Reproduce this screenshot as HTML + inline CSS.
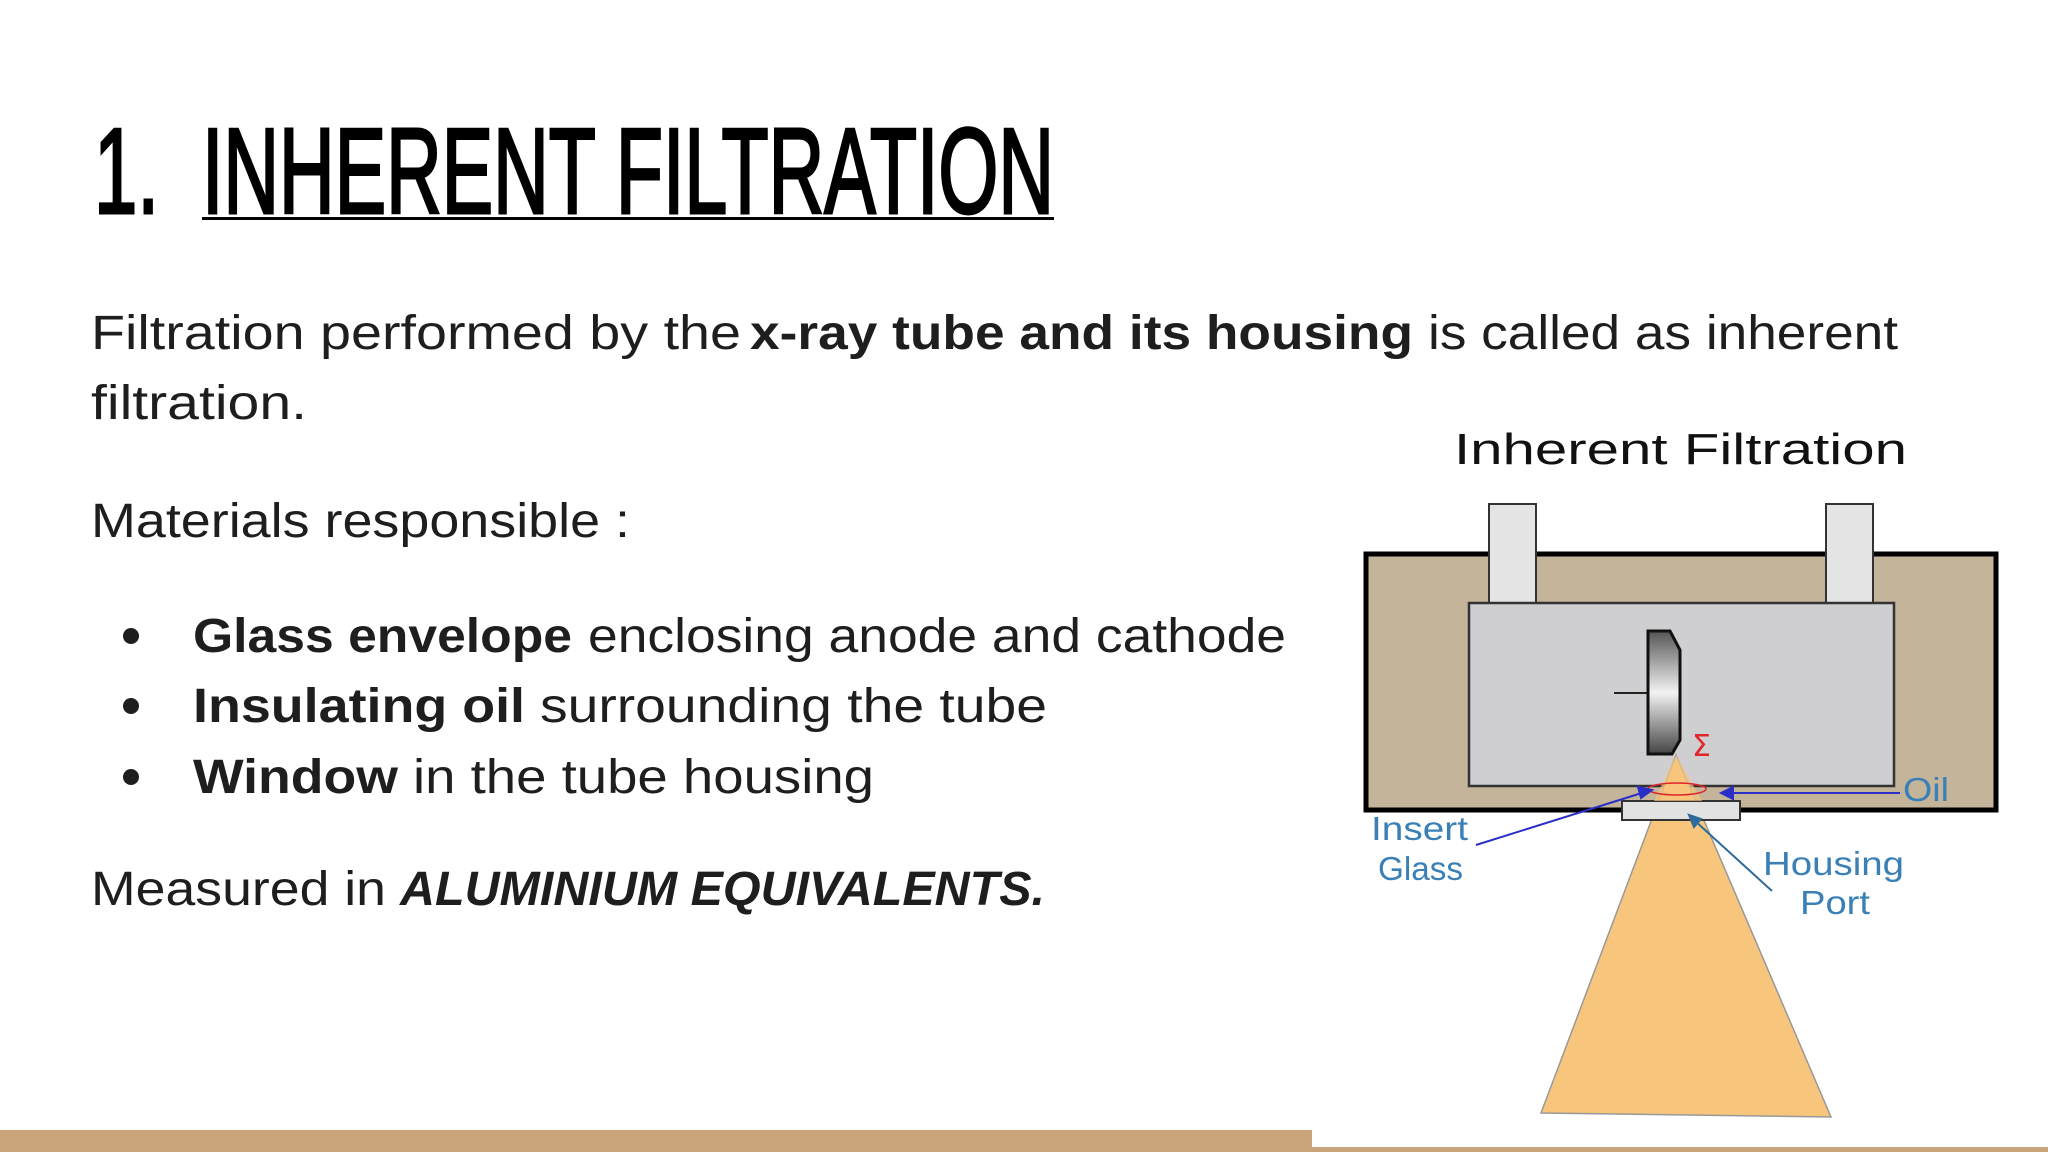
<!DOCTYPE html>
<html><head><meta charset="utf-8"><style>
html,body{margin:0;padding:0;background:#fff;}
svg{display:block;}
.b{font-family:"Liberation Sans",sans-serif;font-size:48px;fill:#1e1e1e;}
.bb{font-weight:bold;}
.lbl{font-family:"Liberation Sans",sans-serif;font-size:33px;fill:#3a80b6;}
</style></head><body>
<svg width="2048" height="1152" viewBox="0 0 2048 1152" xmlns="http://www.w3.org/2000/svg">
<defs>
<linearGradient id="ag" x1="0" y1="0" x2="0" y2="1">
<stop offset="0" stop-color="#555"/><stop offset="0.5" stop-color="#f2f2f2"/><stop offset="1" stop-color="#444"/>
</linearGradient>
</defs>
<!-- Title -->
<text x="94" y="213" font-family="Liberation Sans,sans-serif" font-size="122" fill="#000" stroke="#000" stroke-width="3" textLength="65" lengthAdjust="spacingAndGlyphs">1.</text>
<text x="202" y="213" font-family="Liberation Sans,sans-serif" font-size="122" fill="#000" stroke="#000" stroke-width="3" textLength="852" lengthAdjust="spacingAndGlyphs">INHERENT FILTRATION</text>
<rect x="202" y="217" width="852" height="3" fill="#000"/>
<!-- Body -->
<text class="b" x="91" y="349" textLength="650" lengthAdjust="spacingAndGlyphs">Filtration performed by the</text>
<text class="b bb" x="750" y="349" textLength="663" lengthAdjust="spacingAndGlyphs">x-ray tube and its housing</text>
<text class="b" x="1428" y="349" textLength="470" lengthAdjust="spacingAndGlyphs">is called as inherent</text>
<text class="b" x="91" y="419" textLength="216" lengthAdjust="spacingAndGlyphs">filtration.</text>
<text class="b" x="91" y="537" textLength="539" lengthAdjust="spacingAndGlyphs">Materials responsible :</text>
<circle cx="131" cy="636" r="8" fill="#1e1e1e"/>
<circle cx="131" cy="706" r="8" fill="#1e1e1e"/>
<circle cx="131" cy="777" r="8" fill="#1e1e1e"/>
<text class="b bb" x="193" y="652" textLength="379" lengthAdjust="spacingAndGlyphs">Glass envelope</text>
<text class="b" x="588" y="652" textLength="698" lengthAdjust="spacingAndGlyphs">enclosing anode and cathode</text>
<text class="b bb" x="193" y="722" textLength="332" lengthAdjust="spacingAndGlyphs">Insulating oil</text>
<text class="b" x="540" y="722" textLength="507" lengthAdjust="spacingAndGlyphs">surrounding the tube</text>
<text class="b bb" x="193" y="793" textLength="205" lengthAdjust="spacingAndGlyphs">Window</text>
<text class="b" x="413" y="793" textLength="461" lengthAdjust="spacingAndGlyphs">in the tube housing</text>
<text class="b" x="91" y="905" textLength="295" lengthAdjust="spacingAndGlyphs">Measured in</text>
<text class="b bb" x="400" y="905" font-style="italic" textLength="645" lengthAdjust="spacingAndGlyphs">ALUMINIUM EQUIVALENTS.</text>
<!-- Diagram -->
<text x="1454" y="464" font-family="Liberation Sans,sans-serif" font-size="44" fill="#111" textLength="453" lengthAdjust="spacingAndGlyphs">Inherent Filtration</text>
<rect x="1366" y="554" width="630" height="256" fill="#c4b49a" stroke="#000" stroke-width="5"/>
<rect x="1489" y="504" width="47" height="99" fill="#e4e4e4" stroke="#333" stroke-width="2"/>
<rect x="1826" y="504" width="47" height="99" fill="#e4e4e4" stroke="#333" stroke-width="2"/>
<rect x="1469" y="603" width="425" height="183" fill="#cfcfd1" stroke="#333" stroke-width="2.5"/>
<line x1="1614" y1="693" x2="1648" y2="693" stroke="#222" stroke-width="2"/>
<path d="M1648 631 L1670 631 L1680 650 L1680 740 L1672 754 L1648 754 Z" fill="url(#ag)" stroke="#111" stroke-width="3"/>
<text x="1692" y="756" font-family="DejaVu Sans,sans-serif" font-size="30" fill="#e0252b">Σ</text>
<polygon points="1676,755 1541,1113 1831,1117" fill="#f7c57c" stroke="#999" stroke-width="1.5"/>
<rect x="1622" y="801" width="118" height="19" fill="#e2e2e2" stroke="#333" stroke-width="2"/>
<polygon points="1676,755 1654,801 1702,801" fill="#f7c57c" opacity="0.7"/>
<ellipse cx="1677" cy="789" rx="29" ry="6" fill="none" stroke="#e0252b" stroke-width="1.5"/>
<!-- arrows -->
<g stroke="#2a2fc8" stroke-width="2" fill="#2a2fc8">
<line x1="1900" y1="793" x2="1728" y2="793"/>
<polygon points="1721,793 1733,787 1733,799"/>
<line x1="1476" y1="845" x2="1645" y2="792"/>
<polygon points="1652,790 1641,798 1638,787"/>
</g>
<g stroke="#2f6a9a" stroke-width="2" fill="#2f6a9a">
<line x1="1772" y1="891" x2="1694" y2="820"/>
<polygon points="1689,815 1701,819 1694,827"/>
</g>
<text class="lbl" x="1903" y="801" textLength="46" lengthAdjust="spacingAndGlyphs">Oil</text>
<text class="lbl" x="1371" y="840" textLength="97" lengthAdjust="spacingAndGlyphs">Insert</text>
<text class="lbl" x="1378" y="880" textLength="85" lengthAdjust="spacingAndGlyphs">Glass</text>
<text class="lbl" x="1763" y="875" textLength="141" lengthAdjust="spacingAndGlyphs">Housing</text>
<text class="lbl" x="1800" y="914" textLength="70" lengthAdjust="spacingAndGlyphs">Port</text>
<!-- bottom bar -->
<rect x="0" y="1130" width="1312" height="22" fill="#c9a47a"/>
<rect x="1312" y="1147" width="736" height="5" fill="#c9a47a"/>
</svg>
</body></html>
